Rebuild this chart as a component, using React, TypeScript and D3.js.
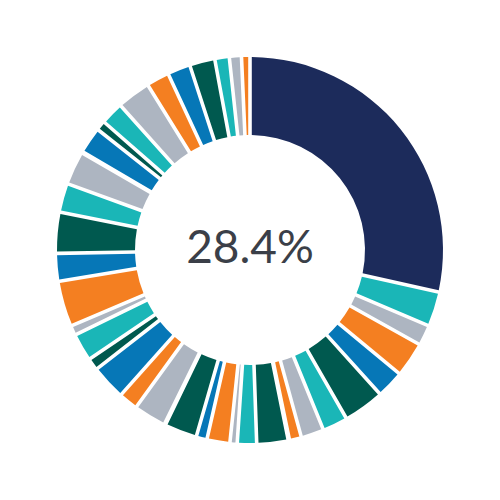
import React, { useEffect, useRef } from 'react';
import * as d3 from 'd3';

// slice values (percent), clockwise from 12 o'clock
const values = [
  28.4,
  2.9, 1.7, 2.9, 2.3, 3.4,
  2.1, 1.9, 1.0, 0.1, 2.6,
  1.6, 0.6, 1.9, 0.9, 2.7,
  0.1, 2.7, 1.6, 2.9, 1.0,
  2.3, 0.8, 3.8, 2.3, 3.4,
  2.4, 2.8, 0.1, 2.2, 0.8,
  1.9, 2.8, 1.9, 1.9, 2.1,
  1.2, 1.0, 0.7,
];
const highlightColor = '#1c2b5b';
const palette = ['#1ab6b7', '#adb5c1', '#f47f21', '#0677b7', '#00594f'];
const centerLabel = '28.4%';

export default function App() {
  const ref = useRef<SVGSVGElement>(null);

  useEffect(() => {
    const svg = d3.select(ref.current);
    svg.selectAll('*').remove();
    const width = 500;
    const height = 500;
    const outer = 193;
    const inner = 115;

    const g = svg.append('g')
      .attr('transform', `translate(${width / 2},${height / 2})`);

    const pie = d3.pie<number>().sort(null).value((d) => d);
    const arc = d3.arc<d3.PieArcDatum<number>>()
      .innerRadius(inner)
      .outerRadius(outer)
      .padAngle(0.016);

    g.selectAll('path')
      .data(pie(values))
      .enter().append('path')
      .attr('d', arc)
      .attr('fill', (d, i) => (i === 0 ? highlightColor : palette[(i - 1) % palette.length]));

    g.append('text')
      .attr('text-anchor', 'middle')
      .attr('y', 13)
      .attr('font-family', 'Lato, sans-serif')
      .attr('font-size', 46)
      .attr('fill', '#3b3f48')
      .text(centerLabel);
  }, []);

  return (
    <svg ref={ref} width={500} height={500}
      style={{ position: 'absolute', left: 0, top: 0, background: '#fff' }} />
  );
}
